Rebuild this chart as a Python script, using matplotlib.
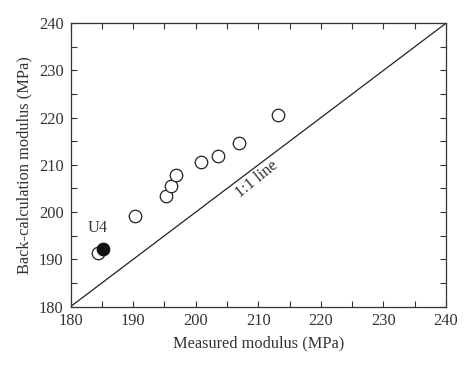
import matplotlib
matplotlib.use("Agg")
import matplotlib.pyplot as plt
from matplotlib.ticker import MultipleLocator

plt.rcParams['font.family'] = ['Liberation Serif', 'DejaVu Serif']

# Measured vs back-calculated modulus (MPa)
measured = [184.3, 190.3, 195.2, 196.0, 196.8, 200.9, 203.6, 206.9, 213.1]
backcalc = [191.4, 199.2, 203.5, 205.6, 207.8, 210.7, 211.8, 214.6, 220.6]
u4_measured = [185.2]
u4_backcalc = [192.2]
line_range = [180, 240]

text_color = '#333333'

fig = plt.figure(figsize=(4.74, 3.68), dpi=100)
ax = fig.add_axes([0.149, 0.167, 0.792, 0.770])

ax.plot(line_range, line_range, color='#222222', linewidth=0.9)
ax.plot(measured, backcalc, 'o', markersize=9, markerfacecolor='white',
        markeredgecolor='#222222', markeredgewidth=0.9, linestyle='none')
ax.plot(u4_measured, u4_backcalc, 'o', markersize=9, markerfacecolor='#111111',
        markeredgecolor='#111111', markeredgewidth=0.9, linestyle='none')

ax.text(184.4, 196.7, 'U4', fontsize=11.8, color=text_color, ha='center', va='center')
ax.text(209.8, 206.9, '1:1 line', fontsize=11.8, color=text_color,
        ha='center', va='center', rotation=39)

ax.set_xlim(line_range)
ax.set_ylim(line_range)
ax.xaxis.set_major_locator(MultipleLocator(10))
ax.yaxis.set_major_locator(MultipleLocator(10))
ax.xaxis.set_minor_locator(MultipleLocator(5))
ax.yaxis.set_minor_locator(MultipleLocator(5))
ax.tick_params(which='both', direction='in', top=True, right=True,
               color='#333333', labelcolor=text_color, labelsize=11.8)
ax.tick_params(which='major', length=4, width=0.8)
ax.tick_params(which='minor', length=4, width=0.8)
ax.tick_params(axis='x', which='major', pad=5)
ax.tick_params(axis='y', which='major', pad=5)
for s in ax.spines.values():
    s.set_linewidth(0.9)
    s.set_color('#333333')

ax.set_xlabel('Measured modulus (MPa)', fontsize=11.8, color=text_color, labelpad=4)
ax.set_ylabel('Back-calculation modulus (MPa)', fontsize=11.8, color=text_color, labelpad=5)

fig.savefig('out.png', dpi=100)
